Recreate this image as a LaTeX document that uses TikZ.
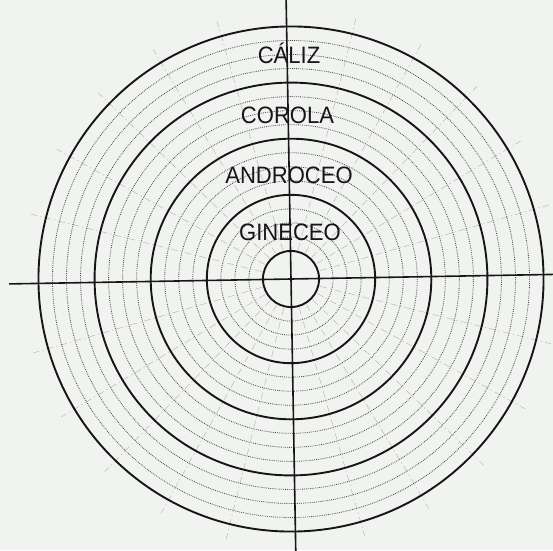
\documentclass[tikz,border=0pt]{standalone}
\usepackage{fontspec}
\setmainfont{Liberation Sans}
\usepackage{graphicx}
\definecolor{paper}{RGB}{241,243,240}
\definecolor{ink}{RGB}{22,22,22}
\tikzset{
 solidring/.style={draw=ink, line width=1.9pt},
 dotring/.style={draw=gray!55!black, line width=0.8pt, dash pattern=on 0.8pt off 1.1pt},
 axisline/.style={draw=ink, line width=1.6pt},
 guide/.style={draw=gray!55, line width=0.5pt, dash pattern=on 7pt off 3pt on 1.5pt off 3pt},
 ringtext/.style={text=ink, font=\fontsize{23.7}{28}\selectfont, inner sep=0pt, anchor=base},
}
\begin{document}
\begin{tikzpicture}[x=1pt,y=1pt]
\fill[paper] (0,0) rectangle (553,550);
\useasboundingbox (0,0) rectangle (553,550);
\clip (0,0) rectangle (553,550);
\begin{scope}[shift={(291,271)}, rotate=1]
 \coordinate (O) at (0,0);
 \foreach \a in {15,30,45,60,75,105,120,135,150,165,195,210,225,240,255,285,300,315,330,345}
   \draw[guide] (\a:30) -- (\a:268);
 \foreach \k in {3,4,5,7,8,9,11,12,13,15,16,17}
   \draw[dotring] (O) circle[radius=14.03*\k];
 \foreach \k in {2,6,10,14,18}
   \draw[solidring] (O) circle[radius=14.03*\k];
 \coordinate (hl) at (-282,0);
 \coordinate (hr) at (300,0);
 \coordinate (vt) at (0,300);
 \coordinate (vb) at (0,-300);
 \draw[axisline] (hl) -- (hr);
 \draw[axisline] (vt) -- (vb);
\end{scope}
\node[ringtext] (caliz) at (289,486.7) {\scalebox{0.93}[1]{CÁLIZ}};
\node[ringtext] (corola) at (287.5,426.7) {\scalebox{0.93}[1]{COROLA}};
\node[ringtext] (androceo) at (289,366.7) {\scalebox{0.93}[1]{ANDROCEO}};
\node[ringtext] (gineceo) at (290,310) {\scalebox{0.93}[1]{GINECEO}};
\end{tikzpicture}
\end{document}
